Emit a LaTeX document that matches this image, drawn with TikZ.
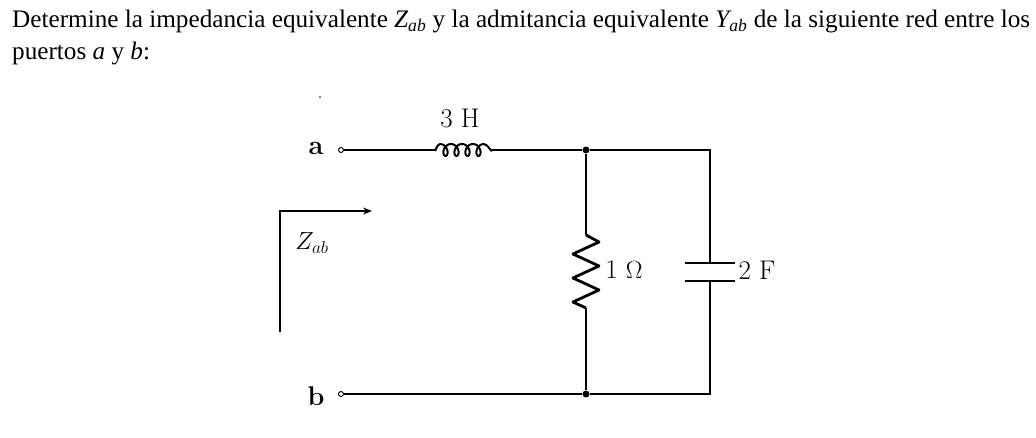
\documentclass[tikz,border=0pt]{standalone}
\usepackage{fontspec}
\newfontfamily\tnr{Liberation Serif}
\usetikzlibrary{arrows.meta}
\begin{document}
\begin{tikzpicture}[x=1pt,y=-1pt,
  wire/.style={line width=1.4pt},
  term/.style={circle,draw,line width=0.9pt,inner sep=0pt,minimum size=5pt,fill=white},
  jn/.style={circle,fill,inner sep=0pt,minimum size=7pt},
  lbl/.style={font=\fontsize{27}{30}\selectfont},
  ttl/.style={anchor=base west,inner sep=0pt,font=\tnr\fontsize{25.2}{28}\selectfont}]
\useasboundingbox (0,0) rectangle (1036,438);
\node[ttl] (t1) at (12,28) {Determine la impedancia equivalente \textit{Z\textsubscript{ab}} y la admitancia equivalente \textit{Y\textsubscript{ab}} de la siguiente red entre los};
\node[ttl] (t2) at (12,60) {puertos \textit{a} y \textit{b}:};
\fill (320,97) circle (0.8pt);
\node[term] (a) at (341,150) {};
\node[term] (b) at (341,394) {};
\node[lbl,font=\bfseries\fontsize{27}{30}\selectfont] at (316,148) {a};
\node[lbl,font=\bfseries\fontsize{27}{30}\selectfont] at (316,396) {b};
\coordinate (l1) at (435,150);
\coordinate (l2) at (492,150);
\node[jn] (n1) at (586,150) {};
\node[jn] (n2) at (586,394) {};
\coordinate (tr) at (710,150);
\coordinate (br) at (710,394);
\coordinate (c1) at (710,263);
\coordinate (c2) at (710,281);
\coordinate (r1) at (586,235);
\coordinate (r2) at (586,308);
\draw[wire] (a) -- (l1);
\draw[line width=2pt,line join=round] (l1) to[out=-90,in=180] (440,144)
  -- plot[domain=0:25.13,samples=120,variable=\t] ({440+1.75*\t+4.5*sin(\t r)},{150-6*cos(\t r)})
  to[out=0,in=-90] (l2);
\draw[wire] (l2) -- (n1) -- (tr) -- (c1);
\draw[wire] (c2) -- (br) -- (n2) -- (b);
\draw[line width=2.8pt] (685,263) -- (735,263) (685,281) -- (735,281);
\draw[wire] (n1) -- (r1);
\draw[wire] (r2) -- (n2);
\draw[line width=2.8pt,line join=round] (r1) -- (599,242) -- (573,254) -- (599,266) -- (573,278) -- (599,290) -- (573,302) -- (r2);
\node[lbl] (L) at (460,118) {3 H};
\node[lbl] at (624,270) {1 $\Omega$};
\node[lbl] at (757,270) {2 F};
\coordinate (z0) at (280,332);
\coordinate (z1) at (280,211);
\coordinate (z2) at (372,211);
\draw[line width=1.6pt,-{Stealth[length=9pt,width=7pt]}] (z0) -- (z1) -- (z2);
\node[lbl] at (312,243) {$Z_{ab}$};
\end{tikzpicture}
\end{document}
